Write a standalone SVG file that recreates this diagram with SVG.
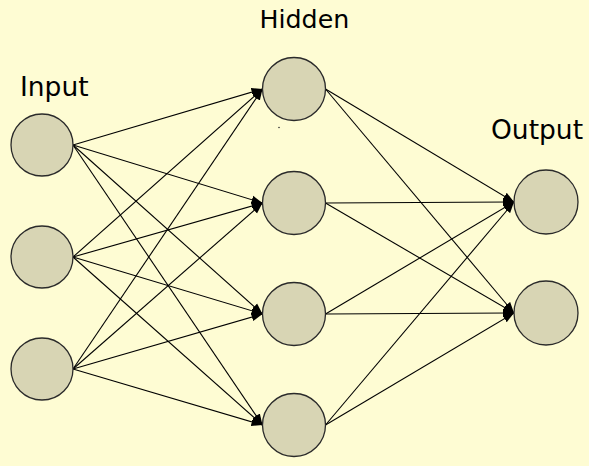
<svg xmlns="http://www.w3.org/2000/svg" width="589" height="466" viewBox="0 0 589 466">
<defs>
<style>
.node{fill:#D8D5B4;stroke:#2a2a2a;stroke-width:1.3}
.edge{stroke:#000;stroke-width:1.1;fill:none;marker-end:url(#ah)}
.lbl{font-family:"DejaVu Sans",sans-serif;fill:#000}
</style>
<marker id="ah" markerUnits="userSpaceOnUse" markerWidth="12" markerHeight="10" viewBox="0 0 12 10" refX="11" refY="5" orient="auto">
<path d="M0,0.8 L11,5 L0,9.2 Z" fill="#000"/>
</marker>
</defs>
<rect width="589" height="466" fill="#FEFCD3"/>
<g id="connectors">
<path class="edge" d="M73,145 L262.5,89"/>
<path class="edge" d="M73,145 L262.5,203"/>
<path class="edge" d="M73,145 L262.5,314"/>
<path class="edge" d="M73,145 L262.5,425"/>
<path class="edge" d="M73,257 L262.5,89"/>
<path class="edge" d="M73,257 L262.5,203"/>
<path class="edge" d="M73,257 L262.5,314"/>
<path class="edge" d="M73,257 L262.5,425"/>
<path class="edge" d="M73,369 L262.5,89"/>
<path class="edge" d="M73,369 L262.5,203"/>
<path class="edge" d="M73,369 L262.5,314"/>
<path class="edge" d="M73,369 L262.5,425"/>
<path class="edge" d="M325.5,89 L514,202"/>
<path class="edge" d="M325.5,89 L514,313"/>
<path class="edge" d="M325.5,203 L514,202"/>
<path class="edge" d="M325.5,203 L514,313"/>
<path class="edge" d="M325.5,314 L514,202"/>
<path class="edge" d="M325.5,314 L514,313"/>
<path class="edge" d="M325.5,425 L514,202"/>
<path class="edge" d="M325.5,425 L514,313"/>
</g>
<g id="label-input"><text class="lbl" x="20" y="95.5" font-size="26.5">Input</text></g>
<g id="label-hidden"><text class="lbl" x="259.5" y="27.5" font-size="25.3">Hidden</text></g>
<g id="label-output"><text class="lbl" x="491" y="138.7" font-size="26.5">Output</text></g>
<g id="in1"><circle class="node" cx="42" cy="145" r="31"/></g>
<g id="in2"><circle class="node" cx="42" cy="257" r="31"/></g>
<g id="in3"><circle class="node" cx="42" cy="369" r="31"/></g>
<g id="h1"><circle class="node" cx="294" cy="89" r="31.5"/></g>
<g id="h2"><circle class="node" cx="294" cy="203" r="31.5"/></g>
<g id="h3"><circle class="node" cx="294" cy="314" r="31.5"/></g>
<g id="h4"><circle class="node" cx="294" cy="425" r="31.5"/></g>
<g id="out1"><circle class="node" cx="546" cy="202" r="32"/></g>
<g id="out2"><circle class="node" cx="546" cy="313" r="32"/></g>
<circle cx="279" cy="127.5" r="0.8" fill="#333"/>
</svg>
